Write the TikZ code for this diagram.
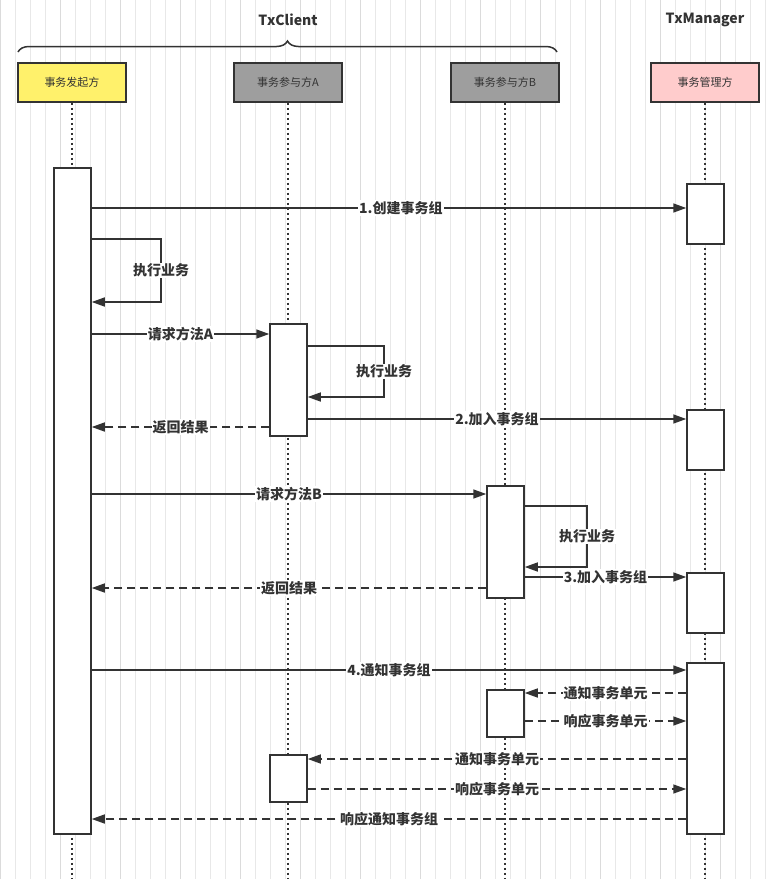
\documentclass[tikz,border=0pt]{standalone}
\usepackage{fontspec}
\setmainfont{Noto Sans CJK SC}
\usetikzlibrary{arrows.meta,decorations.pathreplacing}
\definecolor{ln}{HTML}{333333}
\begin{document}
\begin{tikzpicture}[x=1pt,y=-1pt,
  hdr/.style={draw=ln,line width=1.5pt,minimum width=108pt,minimum height=39pt,font=\fontsize{11}{11}\selectfont,text=ln},
  act/.style={draw=ln,line width=1.5pt,fill=white,minimum width=37pt,anchor=north},
  life/.style={ln,line width=1.5pt,dash pattern=on 2pt off 3pt},
  msg/.style={ln,line width=1.5pt,-{Triangle[length=13pt,width=9pt]}},
  ret/.style={msg,dash pattern=on 8pt off 5pt},
  lab/.style={fill=white,inner sep=1pt,font=\bfseries\fontsize{14}{14}\selectfont,text=ln}]
\useasboundingbox (0,0) rectangle (772,879);
\fill[white] (0,0) rectangle (772,879);
\draw[black!9,line width=0.5pt,step=15] (0,0) grid (772,879);
\draw[black!14,line width=0.8pt,step=60] (0,0) grid (772,879);
% headers
\node[hdr,fill={rgb,255:red,255;green,241;blue,107}] (h1) at (72,82.5) {事务发起方};
\node[hdr,fill={rgb,255:red,158;green,158;blue,158}] (h2) at (288,82.5) {事务参与方A};
\node[hdr,fill={rgb,255:red,158;green,158;blue,158}] (h3) at (505,82.5) {事务参与方B};
\node[hdr,fill={rgb,255:red,255;green,204;blue,204}] (h4) at (705,82.5) {事务管理方};
\coordinate (e1) at (72,879);\coordinate (e2) at (288,879);\coordinate (e3) at (505,879);\coordinate (e4) at (705,879);
\draw[life] (h1.south) -- (e1);
\draw[life] (h2.south) -- (e2);
\draw[life] (h3.south) -- (e3);
\draw[life] (h4.south) -- (e4);
% brace
\coordinate (b1) at (18,52);\coordinate (b2) at (557,52);
\draw[ln,line width=1.5pt,decorate,decoration={brace,amplitude=11pt}] (b1) -- (b2);
\node[font=\bfseries\fontsize{14}{14}\selectfont,text=ln] (tc) at (288,20) {TxClient};
\node[font=\bfseries\fontsize{14}{14}\selectfont,text=ln] (tm) at (705,20) {TxManager};
% activations
\node[act,minimum height=666pt] (I) at (72.5,167) {};
\node[act,minimum height=60pt] (M1) at (705.5,183) {};
\node[act,minimum height=112pt] (A1) at (288.5,323) {};
\node[act,minimum height=60pt] (M2) at (705.5,409) {};
\node[act,minimum height=112pt] (B1) at (505.5,485) {};
\node[act,minimum height=60pt] (M3) at (705.5,572) {};
\node[act,minimum height=171pt] (M4) at (705.5,662) {};
\node[act,minimum height=47pt] (B2) at (505.5,689) {};
\node[act,minimum height=47pt] (A2) at (288.5,754) {};
% messages
\draw[msg] (I.east|-0,208) -- node[lab,pos=0.52]{1.创建事务组} (M1.west|-0,208);
\draw[msg] (I.east|-0,239) -- (161,239) -- node[lab,pos=0.5]{执行业务} (161,302) -- (I.east|-0,302);
\draw[msg] (I.east|-0,334) -- node[lab,pos=0.5]{请求方法A} (A1.west|-0,334);
\draw[msg] (A1.east|-0,346) -- (384,346) -- node[lab,pos=0.5]{执行业务} (384,397) -- (A1.east|-0,397);
\draw[ret] (A1.west|-0,427) -- node[lab,pos=0.5]{返回结果} (I.east|-0,427);
\draw[msg] (A1.east|-0,419) -- node[lab,pos=0.5]{2.加入事务组} (M2.west|-0,419);
\draw[msg] (I.east|-0,494) -- node[lab,pos=0.5]{请求方法B} (B1.west|-0,494);
\draw[msg] (B1.east|-0,506) -- (587,506) -- node[lab,pos=0.5]{执行业务} (587,567) -- (B1.east|-0,567);
\draw[ret] (B1.west|-0,588) -- node[lab,pos=0.5]{返回结果} (I.east|-0,588);
\draw[msg] (B1.east|-0,577) -- node[lab,pos=0.5]{3.加入事务组} (M3.west|-0,577);
\draw[msg] (I.east|-0,670) -- node[lab,pos=0.5]{4.通知事务组} (M4.west|-0,670);
\draw[ret] (M4.west|-0,693) -- node[lab,pos=0.5]{通知事务单元} (B2.east|-0,693);
\draw[ret] (B2.east|-0,721) -- node[lab,pos=0.5]{响应事务单元} (M4.west|-0,721);
\draw[ret] (M4.west|-0,759) -- node[lab,pos=0.5]{通知事务单元} (A2.east|-0,759);
\draw[ret] (A2.east|-0,789) -- node[lab,pos=0.5]{响应事务单元} (M4.west|-0,789);
\draw[ret] (M4.west|-0,819) -- node[lab,pos=0.5]{响应通知事务组} (I.east|-0,819);
\end{tikzpicture}
\end{document}
